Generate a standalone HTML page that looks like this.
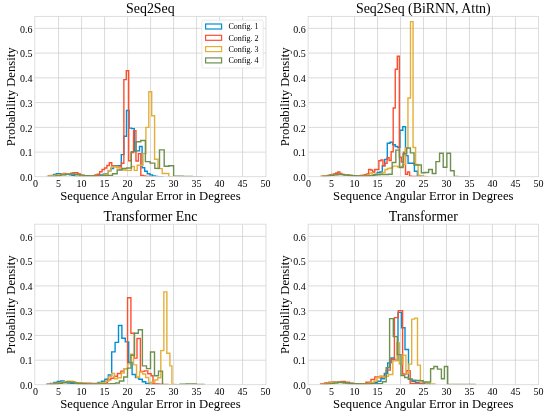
<!DOCTYPE html>
<html><head><meta charset="utf-8"><title>Sequence Angular Error</title>
<style>html,body{margin:0;padding:0;background:#fff}svg{display:block}text{font-family:"Liberation Serif", serif;fill:#000}</style></head>
<body>
<svg width="550" height="416" viewBox="0 0 550 416">
<rect width="550" height="416" fill="#fff"/>
<g>
<path d="M58.55 16.4V176.7M81.55 16.4V176.7M104.55 16.4V176.7M127.55 16.4V176.7M150.55 16.4V176.7M173.55 16.4V176.7M196.55 16.4V176.7M219.55 16.4V176.7M242.55 16.4V176.7M34.8 152.14H266M34.8 127.38H266M34.8 102.62H266M34.8 77.86H266M34.8 53.1H266M34.8 28.34H266" stroke="#cbcbcb" stroke-width="0.7" fill="none"/>
<clipPath id="ctl"><rect x="34.8" y="16.4" width="231.2" height="160.3"/></clipPath>
<g clip-path="url(#ctl)" fill="none" stroke-width="1.4" stroke-linejoin="miter">
<path d="M48.5 176.9V176.16H51.1V175.41H53.7V174.42H56.3V173.68H58.9V173.68H61.5V174.67H64.1V174.67H66.7V174.42H69.3V174.92H71.9V175.41H74.5V176.16H77.1V176.16H79.7V176.4H82.3V176.4H84.9V176.4H87.5V176.4H90.1V176.16H92.7V175.91H95.3V175.66H97.9V175.41H100.5V174.92H103.1V174.18H105.7V173.68H108.3V170.83H110.9V168.48H113.5V165.58H116.1V165.58H118.7V165.58H121.3V154.62H123.9V136.29H126.5V110.54H129.1V128.12H131.7V128.62H134.3V150.9H136.9V150.9H139.5V146.57H142.1V167.74H144.7V171.21H147.3V173.68H149.9V174.92H152.5V175.91H155.1V176.4H157.7V176.65H160.3V176.65H162.9V176.9" stroke="#008fd5"/>
<path d="M48.84 176.9V175.91H51.26V175.66H53.68V175.66H56.1V175.41H58.52V174.92H60.94V174.42H63.36V173.53H65.78V173.93H68.2V173.93H70.62V173.19H73.04V172.69H75.46V172.69H77.88V173.93H80.3V175.17H82.72V175.66H85.14V175.91H87.56V175.91H89.98V175.91H92.4V175.66H94.82V174.92H97.24V174.18H99.66V171.82H102.08V169.47H104.5V167.99H106.92V165.51H109.34V162.79H111.76V166.01H114.18V166.5H116.6V167.49H119.02V167H121.44V163.18H123.86V79.59H126.28V70.68H128.7V160.81H131.12V152.64H133.54V130.6H135.96V160.93H138.38V153.63H140.8V175.41H143.22V175.91H145.64V176.4H148.06V176.4H150.48V176.65H152.9V176.9" stroke="#fc4f30"/>
<path d="M47.3 176.9V176.16H50.2V175.66H53.1V175.41H56V175.17H58.9V174.67H61.8V174.18H64.7V174.18H67.6V173.93H70.5V173.93H73.4V174.18H76.3V174.92H79.2V175.66H82.1V175.91H85V176.16H87.9V176.16H90.8V176.16H93.7V176.16H96.6V175.91H99.5V175.66H102.4V175.17H105.3V174.18H108.2V170.46H111.1V167H114V166.5H116.9V167.49H119.8V168.98H122.7V169.97H125.6V170.34H128.5V170.34H131.4V166.5H134.3V170.34H137.2V165.26H140.1V165.26H143V153.63H145.9V127.38H148.8V91.73H151.7V115.74H154.6V159.32H158V168.61H162.2V173.43H168.8V176.65H172V176.9" stroke="#e5ae38"/>
<path d="M51.4 176.9V176.4H56.1V175.91H60.8V174.92H65.5V174.18H70.2V173.93H74.9V174.42H79.6V175.17H84.3V175.66H89V175.91H93.7V175.91H98.4V175.66H103.1V175.66H107.8V175.41H112.5V173.68H117.2V169.97H121.9V168.48H126.6V167.99H131.3V151.64H136V141.74H140.7V140.5H145.4V161.62H150.1V163.16H154.8V168.33H159.5V149.91H164.2V166.18H168.9V165.76H173.6V176.16H178.3V176.16H183V176.4H187.7V176.4H192.4V176.65H197.1V176.65H201.8V176.9" stroke="#6d904f"/>
</g>
<rect x="34.8" y="16.4" width="231.2" height="160.3" fill="none" stroke="#dadada" stroke-width="0.9"/>
<text x="35.55" y="187.3" font-size="10" text-anchor="middle">0</text>
<text x="58.55" y="187.3" font-size="10" text-anchor="middle">5</text>
<text x="81.55" y="187.3" font-size="10" text-anchor="middle">10</text>
<text x="104.55" y="187.3" font-size="10" text-anchor="middle">15</text>
<text x="127.55" y="187.3" font-size="10" text-anchor="middle">20</text>
<text x="150.55" y="187.3" font-size="10" text-anchor="middle">25</text>
<text x="173.55" y="187.3" font-size="10" text-anchor="middle">30</text>
<text x="196.55" y="187.3" font-size="10" text-anchor="middle">35</text>
<text x="219.55" y="187.3" font-size="10" text-anchor="middle">40</text>
<text x="242.55" y="187.3" font-size="10" text-anchor="middle">45</text>
<text x="265.55" y="187.3" font-size="10" text-anchor="middle">50</text>
<text x="32.4" y="181.2" font-size="10" text-anchor="end">0.0</text>
<text x="32.4" y="156.44" font-size="10" text-anchor="end">0.1</text>
<text x="32.4" y="131.68" font-size="10" text-anchor="end">0.2</text>
<text x="32.4" y="106.92" font-size="10" text-anchor="end">0.3</text>
<text x="32.4" y="82.16" font-size="10" text-anchor="end">0.4</text>
<text x="32.4" y="57.4" font-size="10" text-anchor="end">0.5</text>
<text x="32.4" y="32.64" font-size="10" text-anchor="end">0.6</text>
<text x="150.4" y="12.7" font-size="13.9" text-anchor="middle">Seq2Seq</text>
<text x="150.4" y="200.3" font-size="12.7" text-anchor="middle">Sequence Angular Error in Degrees</text>
<text transform="translate(15.2 96.85) rotate(-90)" font-size="12.65" text-anchor="middle">Probability Density</text>
</g>
<g>
<path d="M331.58 16.4V176.7M354.56 16.4V176.7M377.54 16.4V176.7M400.52 16.4V176.7M423.5 16.4V176.7M446.48 16.4V176.7M469.46 16.4V176.7M492.44 16.4V176.7M515.42 16.4V176.7M308.1 152.14H538.5M308.1 127.38H538.5M308.1 102.62H538.5M308.1 77.86H538.5M308.1 53.1H538.5M308.1 28.34H538.5" stroke="#cbcbcb" stroke-width="0.7" fill="none"/>
<clipPath id="ctr"><rect x="308.1" y="16.4" width="230.4" height="160.3"/></clipPath>
<g clip-path="url(#ctr)" fill="none" stroke-width="1.4" stroke-linejoin="miter">
<path d="M323.25 176.9V176.16H325.82V175.91H328.39V175.41H330.96V174.92H333.53V174.42H336.1V173.93H338.67V173.93H341.24V174.42H343.81V174.92H346.38V175.41H348.95V175.66H351.52V175.91H354.09V176.16H356.66V176.16H359.23V176.16H361.8V176.16H364.37V176.16H366.94V175.91H369.51V175.66H372.08V175.41H374.65V174.92H377.2V172.44H379.8V171.95H382.3V165.76H384.7V159.39H387.3V143.23H390.07V142.24H392.64V144.71H395.2V146.45H397.8V147.44H399.9V130.18H402.8V126.64H405.5V155.61H408.07V163.28H414.4V171.21H417.4V175.41H420V176.16H423V176.65H426V176.9" stroke="#008fd5"/>
<path d="M321.45 176.9V176.16H323.5V175.91H325.55V175.66H327.6V175.41H329.65V174.92H331.7V174.42H333.75V173.93H335.8V172.94H337.85V171.95H339.9V173.43H341.95V174.67H344V174.92H346.05V174.92H348.1V175.17H350.15V175.41H352.2V175.66H354.25V175.66H356.3V175.66H358.35V175.66H360.4V175.41H362.45V175.17H364.5V174.67H366.55V173.93H368.6V169.47H370.65V169.97H372.7V171.95H374.75V169.47H376.8V169.47H378.85V160.81H380.9V160.06H382.95V165.76H385V163.28H387.05V157.71H389.1V160.56H391.15V151.77H393.2V108.07H395.25V69.32H397.3V56.32H399.35V157.09H401.4V162.04H403.45V152.24H405.5V174.18H407.55V171.95H409.6V176.16H411.65V176.4H413.7V176.4H415.75V176.4H417.8V176.65H419.85V176.9" stroke="#fc4f30"/>
<path d="M321.25 176.9V176.16H323.8V175.91H326.35V175.66H328.9V175.41H331.45V175.17H334V174.92H336.55V174.67H339.1V174.42H341.65V174.42H344.2V174.67H346.75V174.92H349.3V175.41H351.85V175.66H354.4V175.91H356.95V175.91H359.5V175.91H362.05V175.91H364.6V175.66H367.15V175.17H369.7V172.94H372.25V174.42H374.8V173.93H377.35V174.92H379.9V173.93H382.45V172.44H385V169.47H387.55V168.48H390.1V167.99H392.65V166.13H395.2V166.13H397.75V167H400.3V166.5H402.85V164.52H405.4V147.93H407.95V98.04H410.5V21.65H413.05V147.56H415.6V164.52H418.15V175.66H420.7V176.16H423.25V176.4H425.8V176.65H428.35V176.9" stroke="#e5ae38"/>
<path d="M322.9 176.9V176.4H326.55V175.91H330.19V175.41H333.84V174.92H337.48V174.67H341.13V174.67H344.78V174.92H348.42V175.41H352.07V175.66H355.71V175.91H359.36V175.91H363.01V175.91H366.65V175.91H370.3V175.66H373.94V174.67H377.59V174.52H381.24V174.52H384.88V174.52H388.53V174.18H392.17V162.54H395.82V150.16H399.47V167.49H403.11V153.75H406.76V148.05H410.4V152.88H414.05V165.02H417.7V165.02H421.34V172.81H424.99V172.44H428.63V169.57H432.28V173.43H435.93V161.62H439.57V153.2H443.22V167.24H446.86V153.2H450.51V170.76H454.16V176.4H457.8V176.65H461.45V176.65H465.09V176.65H468.74V176.9" stroke="#6d904f"/>
</g>
<rect x="308.1" y="16.4" width="230.4" height="160.3" fill="none" stroke="#dadada" stroke-width="0.9"/>
<text x="308.6" y="187.3" font-size="10" text-anchor="middle">0</text>
<text x="331.58" y="187.3" font-size="10" text-anchor="middle">5</text>
<text x="354.56" y="187.3" font-size="10" text-anchor="middle">10</text>
<text x="377.54" y="187.3" font-size="10" text-anchor="middle">15</text>
<text x="400.52" y="187.3" font-size="10" text-anchor="middle">20</text>
<text x="423.5" y="187.3" font-size="10" text-anchor="middle">25</text>
<text x="446.48" y="187.3" font-size="10" text-anchor="middle">30</text>
<text x="469.46" y="187.3" font-size="10" text-anchor="middle">35</text>
<text x="492.44" y="187.3" font-size="10" text-anchor="middle">40</text>
<text x="515.42" y="187.3" font-size="10" text-anchor="middle">45</text>
<text x="538.4" y="187.3" font-size="10" text-anchor="middle">50</text>
<text x="305.7" y="181.2" font-size="10" text-anchor="end">0.0</text>
<text x="305.7" y="156.44" font-size="10" text-anchor="end">0.1</text>
<text x="305.7" y="131.68" font-size="10" text-anchor="end">0.2</text>
<text x="305.7" y="106.92" font-size="10" text-anchor="end">0.3</text>
<text x="305.7" y="82.16" font-size="10" text-anchor="end">0.4</text>
<text x="305.7" y="57.4" font-size="10" text-anchor="end">0.5</text>
<text x="305.7" y="32.64" font-size="10" text-anchor="end">0.6</text>
<text x="423.3" y="12.7" font-size="13.9" text-anchor="middle">Seq2Seq (BiRNN, Attn)</text>
<text x="423.3" y="200.3" font-size="12.7" text-anchor="middle">Sequence Angular Error in Degrees</text>
<text transform="translate(288.5 96.85) rotate(-90)" font-size="12.65" text-anchor="middle">Probability Density</text>
</g>
<g>
<path d="M58.55 224.2V384.7M81.55 224.2V384.7M104.55 224.2V384.7M127.55 224.2V384.7M150.55 224.2V384.7M173.55 224.2V384.7M196.55 224.2V384.7M219.55 224.2V384.7M242.55 224.2V384.7M34.8 360.19H266M34.8 335.43H266M34.8 310.67H266M34.8 285.91H266M34.8 261.15H266M34.8 236.39H266" stroke="#cbcbcb" stroke-width="0.7" fill="none"/>
<clipPath id="cbl"><rect x="34.8" y="224.2" width="231.2" height="160.5"/></clipPath>
<g clip-path="url(#cbl)" fill="none" stroke-width="1.4" stroke-linejoin="miter">
<path d="M47.1 384.95V384.21H50.5V383.46H53.9V382.47H57.3V381.48H60.7V380.86H64.1V382.47H67.5V382.97H70.9V383.22H74.3V383.46H77.7V383.96H81.1V384.21H84.5V384.21H87.9V384.21H91.3V383.96H94.7V383.71H98.1V382.47H101.5V381.24H104.9V379.26H108.3V375.05H111.7V351.9H115.1V342.36H118.5V325.53H121.9V338.28H125.3V341.87H128.7V362.42H132.1V374.55H135.5V377.52H138.9V379.26H142.3V381.73H145.7V383.46H149.1V384.21H152.5V384.45H155.9V384.45H159.3V384.7H162.7V384.95" stroke="#008fd5"/>
<path d="M47.15 384.95V384.45H50.5V383.96H53.85V383.46H57.2V382.97H60.55V382.47H63.9V381.98H67.25V381.98H70.6V382.23H73.95V382.72H77.3V382.97H80.65V383.22H84V383.22H87.35V383.22H90.7V383.46H94.05V383.46H97.4V383.46H100.75V383.22H104.1V382.72H107.45V379.75H110.8V378.26H114.15V376.28H117.5V373.56H120.85V371.08H124.2V368.61H127.55V297.79H130.9V333.2H134.3V358.09H137V338.48H140.4V371.33H144.4V370.84H147.8V373.81H151.1V375.79H153V383.96H158V384.21H163V384.45H168V384.95" stroke="#fc4f30"/>
<path d="M48.69 384.95V384.45H51.72V383.96H54.75V383.46H57.78V382.97H60.81V382.47H63.84V381.73H66.87V381.24H69.9V381.24H72.93V381.98H75.96V382.72H78.99V383.22H82.02V383.46H85.05V383.71H88.08V383.71H91.11V383.71H94.14V383.71H97.17V383.46H100.2V382.97H103.23V382.47H105.9V381.19H108.85V376.38H111.7V373.49H114.6V378.76H117.5V377.77H121.35V373.07H124.2V368.68H127.6V363.9H130.5V354.25H133.53V364.89H136.56V377.27H139.59V372.07H142.62V374.06H145.65V377.52H148.68V382.47H151.71V382.23H154.74V380H157.77V377.77H160.8V350.66H163.83V291.85H166.86V353.26H169.89V365.88H171.9V384.45H176V384.95" stroke="#e5ae38"/>
<path d="M50.3 384.95V384.45H54.3V383.96H58.3V383.22H62.3V382.47H66.3V381.98H70.3V382.23H74.3V382.97H78.3V383.46H82.3V383.71H86.3V383.96H90.3V383.96H94.3V383.96H98.3V383.96H102.3V383.96H106.3V383.96H110.3V383.71H115.6V382.97H119.4V380.99H123.75V377.03H127.5V368.11H131V355.24H134.5V333.2H138.3V329.74H142.4V365.88H146.5V368.61H150.5V352.02H154.5V375.79H158.5V371.08H162.5V384.7H180V384.21H186V383.96H196V384.45H204V384.95" stroke="#6d904f"/>
</g>
<rect x="34.8" y="224.2" width="231.2" height="160.5" fill="none" stroke="#dadada" stroke-width="0.9"/>
<text x="35.55" y="395.3" font-size="10" text-anchor="middle">0</text>
<text x="58.55" y="395.3" font-size="10" text-anchor="middle">5</text>
<text x="81.55" y="395.3" font-size="10" text-anchor="middle">10</text>
<text x="104.55" y="395.3" font-size="10" text-anchor="middle">15</text>
<text x="127.55" y="395.3" font-size="10" text-anchor="middle">20</text>
<text x="150.55" y="395.3" font-size="10" text-anchor="middle">25</text>
<text x="173.55" y="395.3" font-size="10" text-anchor="middle">30</text>
<text x="196.55" y="395.3" font-size="10" text-anchor="middle">35</text>
<text x="219.55" y="395.3" font-size="10" text-anchor="middle">40</text>
<text x="242.55" y="395.3" font-size="10" text-anchor="middle">45</text>
<text x="265.55" y="395.3" font-size="10" text-anchor="middle">50</text>
<text x="32.4" y="389.25" font-size="10" text-anchor="end">0.0</text>
<text x="32.4" y="364.49" font-size="10" text-anchor="end">0.1</text>
<text x="32.4" y="339.73" font-size="10" text-anchor="end">0.2</text>
<text x="32.4" y="314.97" font-size="10" text-anchor="end">0.3</text>
<text x="32.4" y="290.21" font-size="10" text-anchor="end">0.4</text>
<text x="32.4" y="265.45" font-size="10" text-anchor="end">0.5</text>
<text x="32.4" y="240.69" font-size="10" text-anchor="end">0.6</text>
<text x="150.4" y="220.5" font-size="13.9" text-anchor="middle">Transformer Enc</text>
<text x="150.4" y="408.3" font-size="12.7" text-anchor="middle">Sequence Angular Error in Degrees</text>
<text transform="translate(15.2 304.75) rotate(-90)" font-size="12.65" text-anchor="middle">Probability Density</text>
</g>
<g>
<path d="M331.58 224.2V384.7M354.56 224.2V384.7M377.54 224.2V384.7M400.52 224.2V384.7M423.5 224.2V384.7M446.48 224.2V384.7M469.46 224.2V384.7M492.44 224.2V384.7M515.42 224.2V384.7M308.1 360.19H538.5M308.1 335.43H538.5M308.1 310.67H538.5M308.1 285.91H538.5M308.1 261.15H538.5M308.1 236.39H538.5" stroke="#cbcbcb" stroke-width="0.7" fill="none"/>
<clipPath id="cbr"><rect x="308.1" y="224.2" width="230.4" height="160.5"/></clipPath>
<g clip-path="url(#cbr)" fill="none" stroke-width="1.4" stroke-linejoin="miter">
<path d="M323.1 384.95V384.21H326.5V383.46H329.9V382.72H333.3V382.23H336.7V381.98H340.1V382.47H343.5V382.97H346.9V383.46H350.3V383.96H353.7V384.21H357.1V384.21H360.5V384.21H363.9V383.96H367.3V383.71H370.7V383.22H374.1V382.47H377.5V381.24H380.9V378.76H384.3V373.56H387.7V362.91H391.1V357.96H394.5V360.19H398V312.4H401.5V327.75H405V349.54H408.5V379.26H412V381.24H415.5V382.47H419V383.46H430V384.95" stroke="#008fd5"/>
<path d="M320.6 384.95V383.96H324.7V382.97H328.8V382.23H332.9V381.98H337V381.73H341.1V381.48H345.2V382.23H349.3V383.22H353.4V383.71H357.5V383.96H361.6V383.71H365.9V382.23H371V379.5H374.8V376.9H378.4V377.52H382.1V376.53H386.2V370.09H390.3V359.57H394.4V317.6H398.3V310.67H402.6V374.06H406.7V370.59H410.2V383.46H423V384.95" stroke="#fc4f30"/>
<path d="M321.8 384.95V384.45H324.7V383.96H327.6V383.22H330.5V382.72H333.4V382.23H336.3V381.98H339.2V382.23H342.1V382.72H345V383.22H347.9V383.71H350.8V383.96H353.7V384.21H356.6V384.21H359.5V384.21H362.4V383.96H365.3V383.71H368.2V383.22H371.1V382.47H374V381.24H376.9V377.52H379.8V376.04H382.7V377.03H385.6V376.28H388.5V374.55H392.8V360.69H397V342.61H399.3V364.15H403V355.24H405.9V373.56H408.8V364.15H411.7V319.09H414.6V318.1H417.5V365.14H420.4V380.74H423.3V382.47H426.2V383.96H429.1V383.96H432V383.96H434.9V384.95" stroke="#e5ae38"/>
<path d="M323.3 384.95V384.45H327V383.96H330.7V383.46H334.4V382.97H338.1V382.23H341.8V382.23H345.5V382.97H349.2V383.46H352.9V383.71H356.6V383.96H360.3V383.96H364V383.96H367.7V383.96H371.4V383.71H375.1V383.71H378.8V383.61H382.5V381.73H386.2V367.62H389.6V318.59H393.3V336.67H397.3V354.62H401V375.54H404.7V377.52H408.4V379.26H412.1V380.25H415.8V380.49H419.5V380.74H423.2V381.98H426.9V381.98H430.6V368.71H433.85V366.53H437.45V369.1H441.4V378.76H444.4V366.53H447.7V384.36H475V384.95" stroke="#6d904f"/>
</g>
<rect x="308.1" y="224.2" width="230.4" height="160.5" fill="none" stroke="#dadada" stroke-width="0.9"/>
<text x="308.6" y="395.3" font-size="10" text-anchor="middle">0</text>
<text x="331.58" y="395.3" font-size="10" text-anchor="middle">5</text>
<text x="354.56" y="395.3" font-size="10" text-anchor="middle">10</text>
<text x="377.54" y="395.3" font-size="10" text-anchor="middle">15</text>
<text x="400.52" y="395.3" font-size="10" text-anchor="middle">20</text>
<text x="423.5" y="395.3" font-size="10" text-anchor="middle">25</text>
<text x="446.48" y="395.3" font-size="10" text-anchor="middle">30</text>
<text x="469.46" y="395.3" font-size="10" text-anchor="middle">35</text>
<text x="492.44" y="395.3" font-size="10" text-anchor="middle">40</text>
<text x="515.42" y="395.3" font-size="10" text-anchor="middle">45</text>
<text x="538.4" y="395.3" font-size="10" text-anchor="middle">50</text>
<text x="305.7" y="389.25" font-size="10" text-anchor="end">0.0</text>
<text x="305.7" y="364.49" font-size="10" text-anchor="end">0.1</text>
<text x="305.7" y="339.73" font-size="10" text-anchor="end">0.2</text>
<text x="305.7" y="314.97" font-size="10" text-anchor="end">0.3</text>
<text x="305.7" y="290.21" font-size="10" text-anchor="end">0.4</text>
<text x="305.7" y="265.45" font-size="10" text-anchor="end">0.5</text>
<text x="305.7" y="240.69" font-size="10" text-anchor="end">0.6</text>
<text x="423.3" y="220.5" font-size="13.9" text-anchor="middle">Transformer</text>
<text x="423.3" y="408.3" font-size="12.7" text-anchor="middle">Sequence Angular Error in Degrees</text>
<text transform="translate(288.5 304.75) rotate(-90)" font-size="12.65" text-anchor="middle">Probability Density</text>
</g>
<g>
<rect x="201.8" y="20.1" width="61.39999999999998" height="47.9" rx="1.5" fill="#fff" fill-opacity="0.85" stroke="#e4e4e4" stroke-width="0.8"/>
<rect x="205.6" y="24" width="16" height="5" fill="none" stroke="#008fd5" stroke-width="1.2"/>
<text x="228.4" y="29.4" font-size="8">Config. 1</text>
<rect x="205.6" y="35.3" width="16" height="5" fill="none" stroke="#fc4f30" stroke-width="1.2"/>
<text x="228.4" y="40.7" font-size="8">Config. 2</text>
<rect x="205.6" y="46.6" width="16" height="5" fill="none" stroke="#e5ae38" stroke-width="1.2"/>
<text x="228.4" y="52" font-size="8">Config. 3</text>
<rect x="205.6" y="57.9" width="16" height="5" fill="none" stroke="#6d904f" stroke-width="1.2"/>
<text x="228.4" y="63.3" font-size="8">Config. 4</text>
</g>
</svg>
</body></html>
